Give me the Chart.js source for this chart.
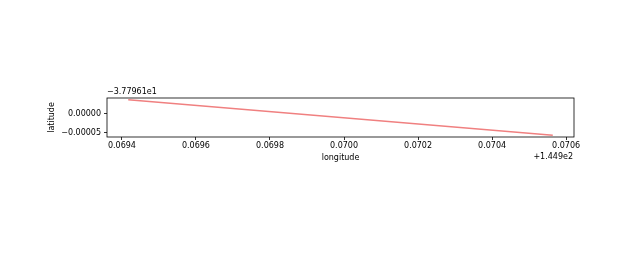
<!DOCTYPE html>
<html>
<head>
<meta charset="utf-8">
<script src="https://cdn.jsdelivr.net/npm/chart.js@4/dist/chart.umd.min.js"></script>
<style>
  html, body { margin: 0; padding: 0; background: #fff; }
  #wrap { width: 642px; height: 254px; }
</style>
</head>
<body>
<div id="wrap"><canvas id="track"></canvas></div>
<script>
const LON_OFFSET = 144.9;
const LAT_OFFSET = -37.7961;

const LONGITUDES = [144.969417, 144.970564];
const LATITUDES = [-37.7960634, -37.7961566];

const X_TICKS = [0.0694, 0.0696, 0.0698, 0.0700, 0.0702, 0.0704, 0.0706];
const Y_TICKS = [-0.00005, 0.00000];

const FONT = { family: 'DejaVu Sans', size: 8 };

const points = LONGITUDES.map((lon, i) => ({ x: lon - LON_OFFSET, y: LATITUDES[i] - LAT_OFFSET }));

// matplotlib style 5% margins
function padRange(vals) {
  const lo = Math.min(...vals), hi = Math.max(...vals);
  const m = (hi - lo) * 0.05;
  return [lo - m, hi + m];
}
const [xMin, xMax] = padRange(points.map((p) => p.x));
const [yMin, yMax] = padRange(points.map((p) => p.y));

const minus = (s) => s.replace('-', '\u2212');

const frame = {
  id: 'frame',
  afterDraw(chart) {
    const { ctx, chartArea: a } = chart;
    ctx.save();
    ctx.strokeStyle = '#000';
    ctx.lineWidth = 0.8;
    ctx.strokeRect(a.left, a.top, a.right - a.left, a.bottom - a.top);
    ctx.fillStyle = '#000';
    ctx.font = FONT.size + 'px ' + FONT.family;
    ctx.textBaseline = 'middle';
    ctx.textAlign = 'left';
    ctx.fillText('\u22123.77961e1', a.left, a.top - 6);
    ctx.textAlign = 'right';
    ctx.fillText('+1.449e2', a.right - 1, a.bottom + 20);
    ctx.restore();
  },
};

new Chart(document.getElementById('track'), {
  type: 'scatter',
  data: {
    datasets: [{
      data: points,
      showLine: true,
      borderColor: '#f08080',
      borderWidth: 1.5,
      pointRadius: 0,
      fill: false,
    }],
  },
  options: {
    responsive: true,
    maintainAspectRatio: false,
    animation: false,
    layout: { padding: { left: 47, top: 98, right: 68, bottom: 91 } },
    plugins: { legend: { display: false }, tooltip: { enabled: false } },
    scales: {
      x: {
        type: 'linear',
        min: xMin - (xMax - xMin) * 0.0,
        max: xMax,
        afterBuildTicks: (s) => { s.ticks = X_TICKS.map((v) => ({ value: v })); },
        afterFit: (s) => { s.height = 26; },
        grid: { drawOnChartArea: false, drawTicks: true, tickLength: 3, color: '#000', lineWidth: 0.8 },
        border: { display: false },
        ticks: { color: '#000', font: FONT, padding: 1, maxRotation: 0, autoSkip: false,
          callback: (v) => v.toFixed(4) },
        title: { display: true, text: 'longitude', color: '#000', font: FONT, padding: 0 },
      },
      y: {
        type: 'linear',
        min: yMin,
        max: yMax,
        afterBuildTicks: (s) => { s.ticks = Y_TICKS.map((v) => ({ value: v })); },
        afterFit: (s) => { s.width = 60; },
        grid: { drawOnChartArea: false, drawTicks: true, tickLength: 3, color: '#000', lineWidth: 0.8 },
        border: { display: false },
        ticks: { color: '#000', font: FONT, padding: 3, autoSkip: false,
          callback: (v) => minus(v.toFixed(5)) },
        title: { display: true, text: 'latitude', color: '#000', font: FONT, padding: 0 },
      },
    },
  },
  plugins: [frame],
});
</script>
</body>
</html>
